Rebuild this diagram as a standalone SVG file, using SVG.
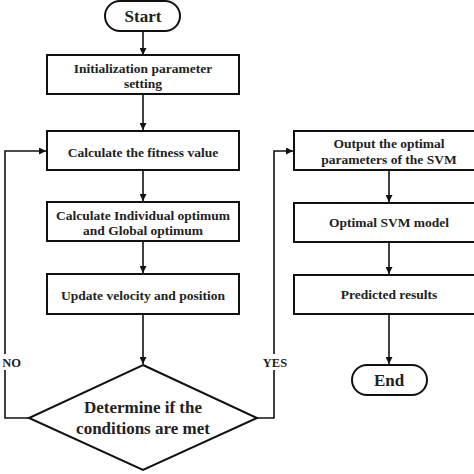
<svg xmlns="http://www.w3.org/2000/svg" width="474" height="474" viewBox="0 0 474 474">
<style>
.box{fill:#fff;stroke:#111;stroke-width:2}
.t{font-family:"Liberation Serif","Times New Roman",serif;font-weight:bold;font-size:13.5px;fill:#222;text-anchor:middle}
.big{font-size:17px}
.lbl{font-size:12.5px}
.c{fill:none;stroke:#111;stroke-width:1.6}
</style>
<defs>
<marker id="ah" viewBox="0 0 10 10" refX="10" refY="5" markerWidth="7" markerHeight="7" markerUnits="userSpaceOnUse" orient="auto">
<path d="M0,0 L10,5 L0,10 z" fill="#111"/>
</marker>
</defs>
<rect width="474" height="474" fill="#fff"/>
<g id="connectors">
<line class="c" x1="143" y1="31" x2="143" y2="55" marker-end="url(#ah)"/>
<line class="c" x1="143" y1="94" x2="143" y2="130" marker-end="url(#ah)"/>
<line class="c" x1="143" y1="170" x2="143" y2="201" marker-end="url(#ah)"/>
<line class="c" x1="143" y1="241" x2="143" y2="273" marker-end="url(#ah)"/>
<line class="c" x1="143" y1="314" x2="143" y2="364" marker-end="url(#ah)"/>
<polyline class="c" points="29,418 5,418 5,151 46,151" marker-end="url(#ah)"/>
<polyline class="c" points="257,418 274,418 274,151 293,151" marker-end="url(#ah)"/>
<line class="c" x1="389" y1="170" x2="389" y2="202" marker-end="url(#ah)"/>
<line class="c" x1="389" y1="242" x2="389" y2="274" marker-end="url(#ah)"/>
<line class="c" x1="389" y1="314" x2="389" y2="364" marker-end="url(#ah)"/>
<rect x="1" y="354" width="21" height="16" fill="#fff"/>
<text class="t lbl" x="11.5" y="367">NO</text>
<rect x="262" y="354" width="26" height="16" fill="#fff"/>
<text class="t lbl" x="275" y="367">YES</text>
</g>
<g id="start">
<rect class="box" x="105" y="1" width="75" height="30" rx="15"/>
<text class="t big" x="143" y="22">Start</text>
</g>
<g id="init">
<rect class="box" x="47" y="55" width="192" height="39"/>
<text class="t" x="143" y="73">Initialization parameter</text>
<text class="t" x="143" y="88">setting</text>
</g>
<g id="fitness">
<rect class="box" x="47" y="131" width="192" height="39"/>
<text class="t" x="143" y="157">Calculate the fitness value</text>
</g>
<g id="optimum">
<rect class="box" x="47" y="202" width="192" height="39"/>
<text class="t" x="143" y="220">Calculate Individual optimum</text>
<text class="t" x="143" y="235">and Global optimum</text>
</g>
<g id="update">
<rect class="box" x="47" y="274" width="192" height="40"/>
<text class="t" x="143" y="300">Update velocity and position</text>
</g>
<g id="decision">
<polygon class="box" points="143,365 257,418 143,470 29,418"/>
<text class="t big" x="143" y="413">Determine if the</text>
<text class="t big" x="143" y="434">conditions are met</text>
</g>
<g id="output">
<rect class="box" x="294" y="131" width="192" height="39"/>
<text class="t" x="389" y="148">Output the optimal</text>
<text class="t" x="389" y="164">parameters of the SVM</text>
</g>
<g id="model">
<rect class="box" x="294" y="203" width="192" height="39"/>
<text class="t" x="389" y="227">Optimal SVM model</text>
</g>
<g id="predicted">
<rect class="box" x="294" y="275" width="192" height="39"/>
<text class="t" x="389" y="299">Predicted results</text>
</g>
<g id="end">
<rect class="box" x="352" y="365" width="75" height="30" rx="15"/>
<text class="t big" x="389" y="386">End</text>
</g>
</svg>
